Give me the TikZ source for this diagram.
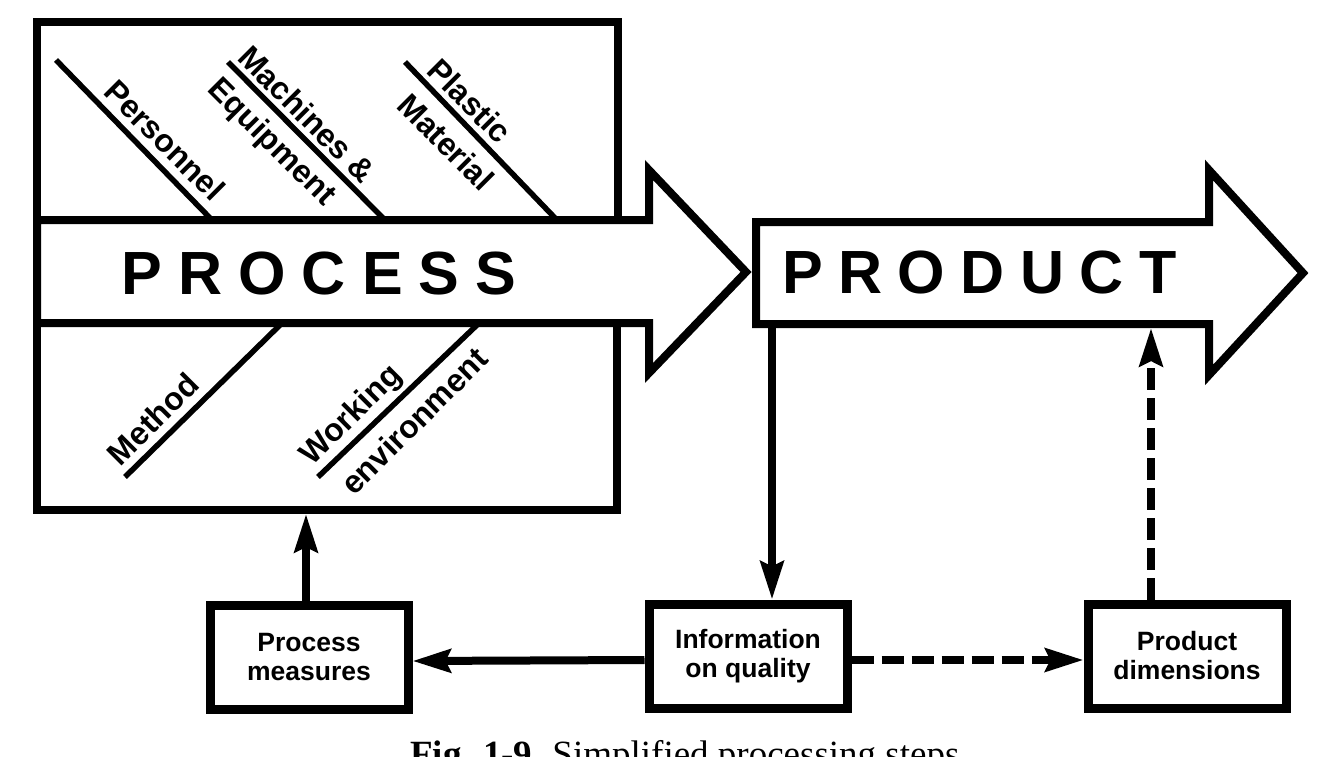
\documentclass[tikz,border=0pt]{standalone}
\usepackage{fontspec}
\setmainfont{Liberation Sans}
\newfontfamily\capfont{Liberation Serif}
\usetikzlibrary{arrows.meta}
\begin{document}
\begin{tikzpicture}[x=1pt,y=-1pt,line join=miter,
  outline/.style={line width=8pt},
  diag/.style={line width=5.5pt},
  lbl/.style={font=\fontsize{32}{34}\selectfont\bfseries, inner sep=0pt},
  boxnode/.style={draw, line width=9pt, minimum width=198pt, minimum height=104pt,
    inner sep=0pt, align=center, font=\fontsize{26.5}{29}\selectfont\bfseries},
  conn/.style={line width=8pt, -{Stealth[length=38pt,width=23pt,inset=5pt]}},
  dconn/.style={conn, dash pattern=on 22pt off 8pt},
  big/.style={font=\fontsize{61}{61}\selectfont\bfseries, inner sep=0pt}
]
\useasboundingbox (0,0) rectangle (1341,757);

% process: upper box, lower box, arrow band
\draw[outline] (37,22) rectangle (618,220);
\draw[outline] (37,323) rectangle (617,510);
\draw[outline, fill=white] (37,220) -- (649,220) -- (649,170) -- (746,272)
  -- (649,373) -- (649,323) -- (37,323) -- cycle;
\node[big] (process) at (319,273.5)
  {P\hspace{16pt}R\hspace{16pt}O\hspace{16pt}C\hspace{16pt}E\hspace{16pt}S\hspace{16pt}S};

% product arrow
\draw[outline, fill=white] (756,222) -- (1209,222) -- (1209,170) -- (1303,273)
  -- (1209,375) -- (1209,324) -- (756,324) -- cycle;
\node[big] (product) at (979.5,272.5)
  {P\hspace{15.5pt}R\hspace{15.5pt}O\hspace{15.5pt}D\hspace{15.5pt}U\hspace{15.5pt}C\hspace{15.5pt}T};

% fishbone lines (upper)
\draw[diag] (56,60) -- (210,218);
\draw[diag] (228,62) -- (383,218);
\draw[diag] (405,62) -- (555,218);
\node[lbl, rotate=-45] (personnel) at (165,140) {Personnel};
\node[lbl, rotate=-45] (machines) at (307,114) {Machines \&};
\node[lbl, rotate=-45] (equipment) at (271,143) {Equipment};
\node[lbl, rotate=-45] (plastic) at (470,101) {Plastic};
\node[lbl, rotate=-45] (material) at (446,142) {Material};

% fishbone lines (lower)
\draw[diag] (125,477) -- (280,325);
\draw[diag] (318,477) -- (477,325);
\node[lbl, rotate=45] (method) at (153,419) {Method};
\node[lbl, rotate=45] (working) at (352,416) {Working};
\node[lbl, rotate=45] (environment) at (414,421) {environment};

% bottom boxes
\node[boxnode] (pm) at (309,657) {Process\\measures};
\node[boxnode] (info) at (748,656) {Information\\on quality};
\node[boxnode] (pd) at (1187,656) {Product\\dimensions};

% connector ends on the big shapes
\coordinate (lowbot) at (306,514);
\coordinate (prodbotA) at (772,328);
\coordinate (prodbotB) at (1151,328);

\draw[conn] (lowbot |- pm.north) -- (lowbot);
\draw[conn] (prodbotA) -- (prodbotA |- info.north);
\draw[conn] ([yshift=-4pt]info.west) -- ([yshift=-4pt]pm.east);
\draw[dconn] ([yshift=-4pt]info.east) -- ([yshift=-4pt]pd.west);
\draw[dconn] (prodbotB |- pd.north) -- (prodbotB);

% caption (cut off at bottom edge)
\node[anchor=base west, inner sep=0pt, font=\capfont\fontsize{37}{37}\selectfont] (caption)
  at (410,766) {\textbf{Fig. 1-9}\hspace{20pt}Simplified processing steps};
\end{tikzpicture}
\end{document}
